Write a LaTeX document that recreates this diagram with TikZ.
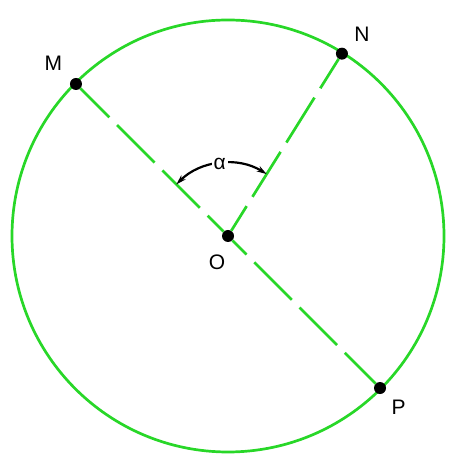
\documentclass[tikz,border=0pt]{standalone}
\usepackage{fontspec}
\setmainfont{Liberation Sans}
\usetikzlibrary{arrows.meta}
\definecolor{rimgreen}{RGB}{40,215,40}

\begin{document}
\begin{tikzpicture}[x=1pt, y=1pt, >={Stealth[length=10pt, width=6pt]},
                    dot/.style={circle, fill=black, inner sep=0pt, minimum size=12pt},
                    every label/.style={font=\fontsize{21}{24}\selectfont, inner sep=0pt},
                    rim/.style={draw=rimgreen, line width=2.7pt},
                    chord/.style={draw=rimgreen, line width=2.7pt, dash pattern=on 53pt off 11pt}]

\useasboundingbox (0,0) rectangle (450,455);
\coordinate (ctr) at (228,219);
\draw[rim] (ctr) circle[radius=216];

\node[dot, label={[xshift=-11pt, label distance=12pt]below:O}] (O) at (ctr) {};
\node[dot, label={[label distance=13pt]above left:M}] (M) at ([shift={(135:215)}]ctr) {};
\node[dot, label={[label distance=11pt]above right:N}] (N) at ([shift={(58:215)}]ctr) {};
\node[dot, label={[label distance=10pt]below right:P}] (P) at ([shift={(-45:215)}]ctr) {};

\path
(M) edge[chord, dash phase=12pt] (O)
(O) edge[chord, dash phase=33pt] (P)
(O) edge[chord, dash phase=24pt] (N);

\draw[<->, line width=2.2pt] ([shift={(58:73)}]ctr) arc[start angle=58, end angle=135, radius=73]
  node[midway, fill=white, inner sep=2pt, font=\fontsize{21}{24}\selectfont] (alpha) {α};
\end{tikzpicture}
\end{document}
